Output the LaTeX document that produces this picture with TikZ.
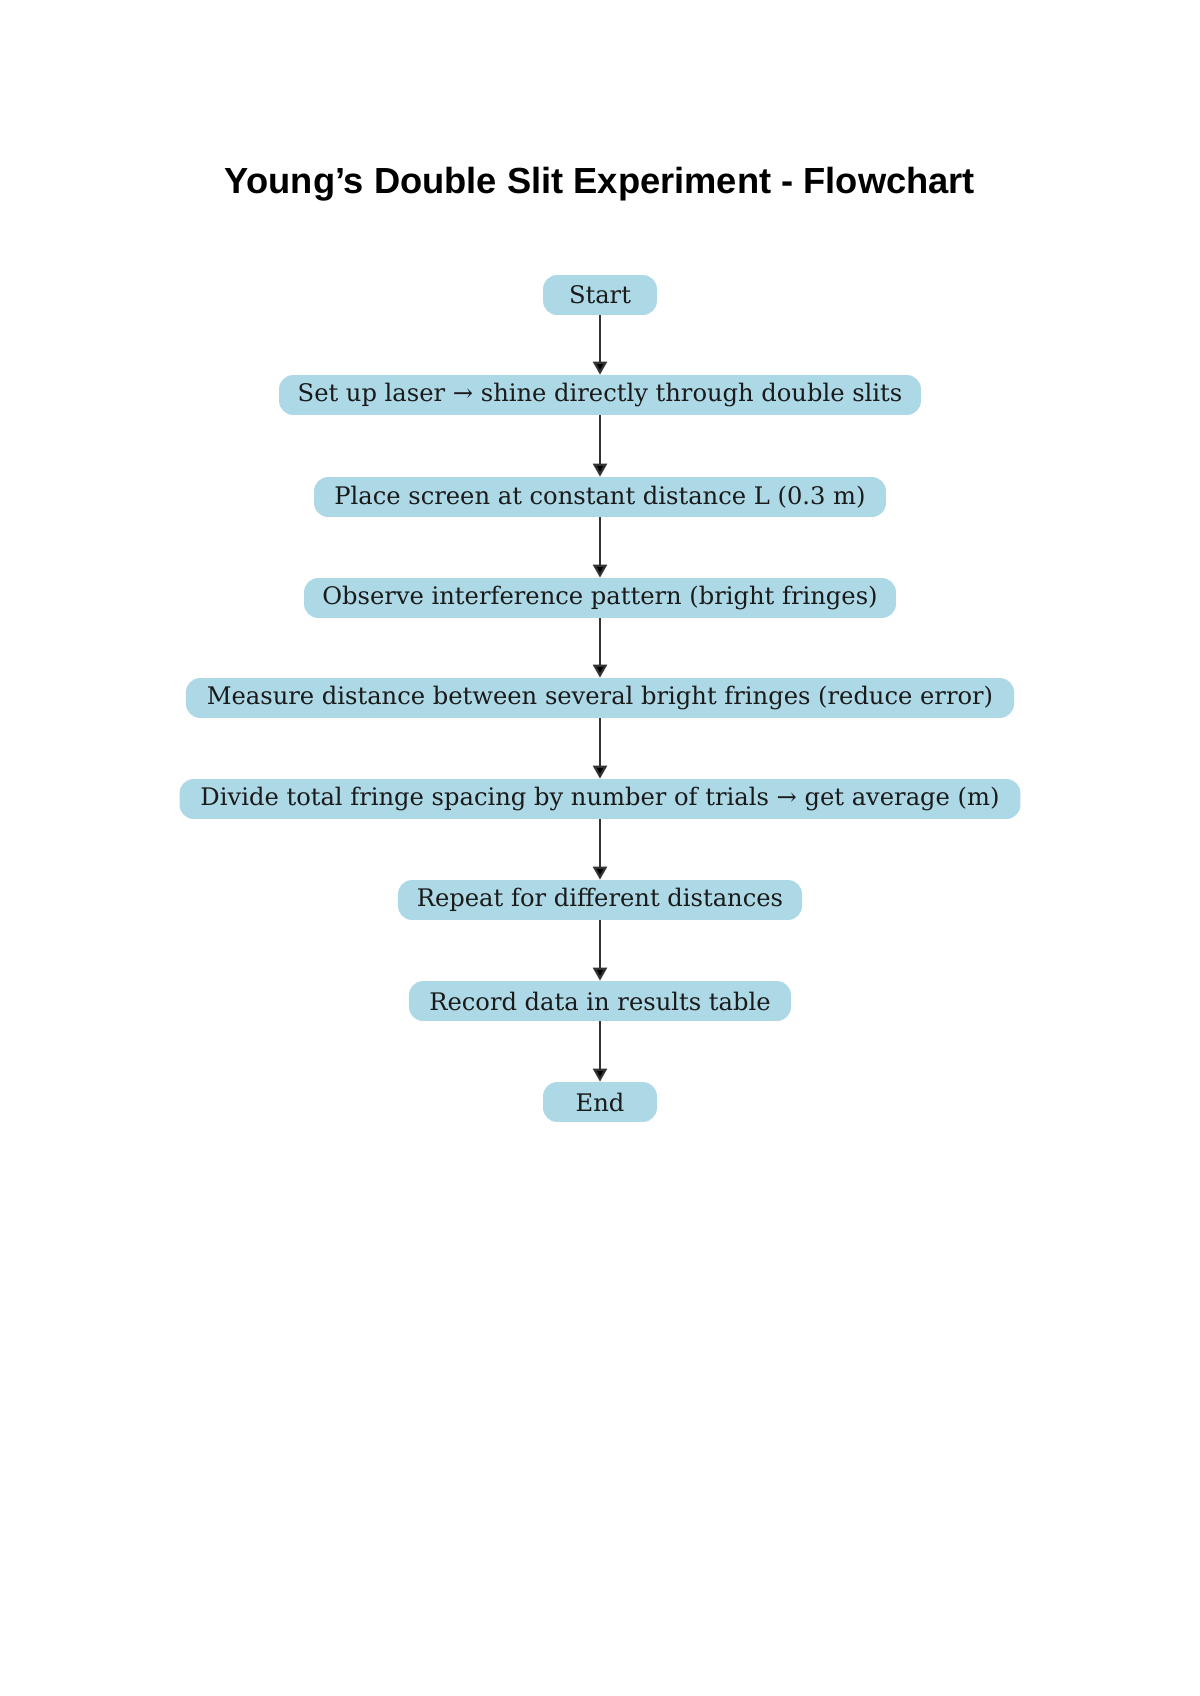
\documentclass[tikz,border=0pt]{standalone}
\usepackage{fontspec}
\setmainfont{DejaVu Serif}
\newfontfamily\titlefont{Liberation Sans}
\usetikzlibrary{arrows.meta}
\definecolor{boxblue}{HTML}{ADD8E6}
\definecolor{linegray}{HTML}{333333}
\definecolor{txtdark}{HTML}{1A1A1A}
\begin{document}
\begin{tikzpicture}[x=0.496pt,y=-0.496pt,
  stepbox/.style={rectangle, rounded corners=7pt, fill=boxblue, draw=none,
    minimum height=19.8pt, inner sep=0pt, text=txtdark, font=\fontsize{12}{13}\selectfont},
  flow/.style={draw=linegray, line width=1.1pt, -{Triangle[width=7pt,length=6.5pt,fill=black]}}
]
\useasboundingbox (0,0) rectangle (1200,1696);
\node[font=\titlefont\bfseries\fontsize{18}{20}\selectfont] (title) at (600,184) {Young’s Double Slit Experiment - Flowchart};
\node[stepbox, minimum width=56.5pt] (start) at (600,295) {Start};
\node[stepbox, minimum width=318.4pt] (setup) at (600,395) {Set up laser → shine directly through double slits};
\node[stepbox, minimum width=283.7pt] (place) at (600,497) {Place screen at constant distance L (0.3 m)};
\node[stepbox, minimum width=293.6pt] (observe) at (600,598) {Observe interference pattern (bright fringes)};
\node[stepbox, minimum width=410.7pt] (measure) at (600,698) {Measure distance between several bright fringes (reduce error)};
\node[stepbox, minimum width=417.1pt] (divide) at (600,799) {Divide total fringe spacing by number of trials → get average (m)};
\node[stepbox, minimum width=200.4pt] (repeat) at (600,900) {Repeat for different distances};
\node[stepbox, minimum width=189.5pt] (record) at (600,1001) {Record data in results table};
\node[stepbox, minimum width=56.5pt] (end) at (600,1102) {End};
\draw[flow] (start) -- (setup);
\draw[flow] (setup) -- (place);
\draw[flow] (place) -- (observe);
\draw[flow] (observe) -- (measure);
\draw[flow] (measure) -- (divide);
\draw[flow] (divide) -- (repeat);
\draw[flow] (repeat) -- (record);
\draw[flow] (record) -- (end);
\end{tikzpicture}
\end{document}
